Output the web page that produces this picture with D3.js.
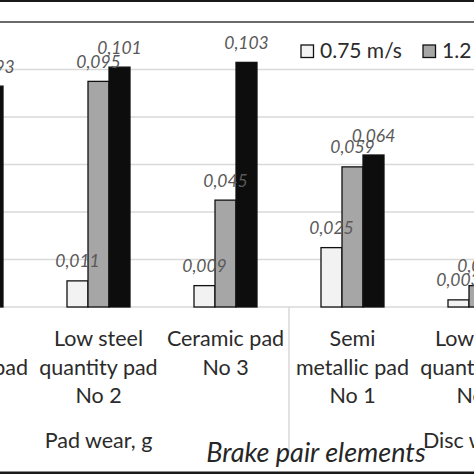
<!DOCTYPE html>
<html>
<head>
<meta charset="utf-8">
<script src="https://cdn.jsdelivr.net/npm/d3@7"></script>
<style>
  body { margin: 0; background: #fff; }
  svg { display: block; font-family: Lato, "Open Sans", sans-serif; }
</style>
</head>
<body>
<svg id="chart" width="474" height="474"></svg>
<script>
// categories (the crop shows only part of the original chart)
const categories = ["Pad 1", "Pad 2", "Pad 3", "Disc 1", "Disc 2", "Disc 3"];
const categoryLines = [
  ["Semi", "metallic pad", "No 1"],
  ["Low steel", "quantity pad", "No 2"],
  ["Ceramic pad", "No 3"],
  ["Semi", "metallic pad", "No 1"],
  ["Low steel", "quantity pad", "No 2"],
  ["Ceramic pad", "No 3"]
];
const groupNames = ["Pad wear, g", "Disc wear, g"];
const groupMembers = [[0, 1, 2], [3, 4, 5]];

const seriesNames = ["0.75 m/s", "1.2 m/s", "1.5 m/s"];
const speed075 = [0.015, 0.011, 0.009, 0.025, 0.003, 0.002];
const speed12 = [0.070, 0.095, 0.045, 0.059, 0.009, 0.006];
const speed15 = [0.093, 0.101, 0.103, 0.064, 0.012, 0.010];
const seriesValues = [speed075, speed12, speed15];
const seriesColors = ["#f2f2f2", "#a6a6a6", "#0d0d0d"];

const yTicks = [0, 0.02, 0.04, 0.06, 0.08, 0.1, 0.12];
const axisTitle = "Brake pair elements";

const svg = d3.select("#chart");
const width = +svg.attr("width");
const height = +svg.attr("height");

// frame bands of the cropped figure
svg.append("rect").attr("x", 0).attr("y", 0).attr("width", width).attr("height", 2).attr("fill", "#1a1a1a");
svg.append("rect").attr("x", 0).attr("y", height - 2.5).attr("width", width).attr("height", 2.5).attr("fill", "#1a1a1a");

const x = d3.scaleBand()
  .domain(categories)
  .range([-92, 670])
  .paddingInner(0)
  .paddingOuter(0);

const xSub = d3.scaleBand()
  .domain(seriesNames)
  .range([x.bandwidth() / 2 - 31.5, x.bandwidth() / 2 + 31.5]);

const y = d3.scaleLinear()
  .domain([0, 0.12])
  .range([307, 22]);

// gridlines
svg.append("g")
  .selectAll("line")
  .data(yTicks)
  .join("line")
  .attr("x1", 0)
  .attr("x2", width)
  .attr("y1", d => y(d))
  .attr("y2", d => y(d))
  .attr("stroke", d => d === 0.12 ? "#3a3a3a" : "#d9d9d9")
  .attr("stroke-width", 1.5);

// bars
const fmt = d3.formatLocale({ decimal: ",", thousands: " ", grouping: [3], currency: ["", ""] }).format(".3f");

const groups = svg.append("g")
  .selectAll("g")
  .data(categories)
  .join("g")
  .attr("transform", d => `translate(${x(d)},0)`);

groups.selectAll("rect")
  .data((d, i) => seriesNames.map((s, j) => ({ s, j, v: seriesValues[j][i] })))
  .join("rect")
  .attr("x", d => xSub(d.s))
  .attr("width", xSub.bandwidth())
  .attr("y", d => y(d.v))
  .attr("height", d => y(0) - y(d.v))
  .attr("fill", d => seriesColors[d.j])
  .attr("stroke", "#111")
  .attr("stroke-width", 1.3);

// value labels
groups.selectAll("text")
  .data((d, i) => seriesNames.map((s, j) => ({ s, j, v: seriesValues[j][i] })))
  .join("text")
  .attr("x", d => xSub(d.s) + xSub.bandwidth() / 2)
  .attr("y", d => y(d.v) - 13.5)
  .attr("text-anchor", "middle")
  .style("font-size", "17.5px")
  .style("font-style", "italic")
  .attr("fill", "#595959")
  .text(d => fmt(d.v));

// category labels
const catLabels = svg.append("g")
  .selectAll("text")
  .data(categories)
  .join("text")
  .attr("x", d => x(d) + x.bandwidth() / 2)
  .attr("y", 346)
  .attr("text-anchor", "middle")
  .style("font-size", "21.5px")
  .attr("fill", "#2b2b2b");

catLabels.selectAll("tspan")
  .data((d, i) => categoryLines[i])
  .join("tspan")
  .attr("x", function () { return d3.select(this.parentNode).attr("x"); })
  .attr("dy", (d, i) => i === 0 ? 0 : 28.5)
  .text(d => d);

// group dividers
const dividers = [0, 3, 6].map(i => i < categories.length ? x(categories[i]) : x(categories[i - 1]) + x.bandwidth());
svg.append("g")
  .selectAll("line")
  .data(dividers)
  .join("line")
  .attr("x1", d => d)
  .attr("x2", d => d)
  .attr("y1", y(0))
  .attr("y2", 452)
  .attr("stroke", "#d9d9d9")
  .attr("stroke-width", 1.5);

// outer category labels
svg.append("g")
  .selectAll("text")
  .data(groupNames)
  .join("text")
  .attr("x", (d, i) => {
    const m = groupMembers[i];
    return (x(categories[m[0]]) + x(categories[m[m.length - 1]]) + x.bandwidth()) / 2;
  })
  .attr("y", 448)
  .attr("text-anchor", "middle")
  .style("font-size", "21.5px")
  .attr("fill", "#2b2b2b")
  .text(d => d);

// axis title
svg.append("text")
  .attr("x", 316)
  .attr("y", 462)
  .attr("text-anchor", "middle")
  .style("font-size", "27px")
  .style("font-style", "italic")
  .attr("fill", "#262626")
  .text(axisTitle);

// legend
const legend = svg.append("g")
  .attr("transform", "translate(301,45)");

const legendItems = legend.selectAll("g")
  .data(seriesNames)
  .join("g")
  .attr("transform", (d, i) => `translate(${i * 122},0)`);

legendItems.append("rect")
  .attr("width", 12.5)
  .attr("height", 12.5)
  .attr("fill", (d, i) => seriesColors[i])
  .attr("stroke", "#111")
  .attr("stroke-width", 1.3);

legendItems.append("text")
  .attr("x", 19)
  .attr("y", 12.5)
  .style("font-size", "21px")
  .attr("fill", "#2b2b2b")
  .text(d => d);
</script>
</body>
</html>
